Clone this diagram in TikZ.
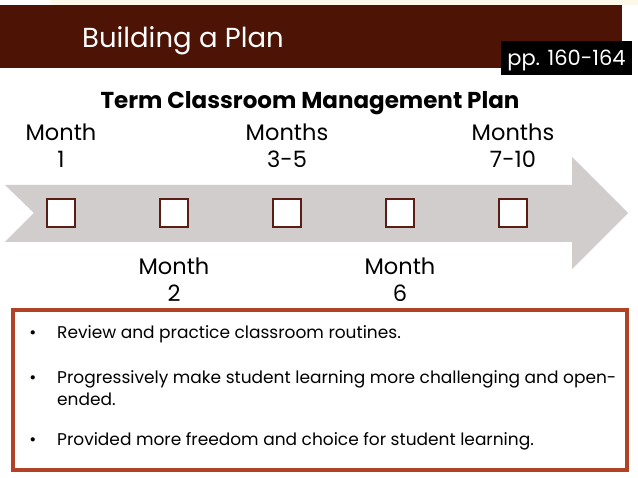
\documentclass[tikz,border=0pt]{standalone}
\usepackage{fontspec}
\setmainfont{Poppins}
\definecolor{barbrown}{RGB}{77,20,6}
\definecolor{cream}{RGB}{253,248,234}
\definecolor{arrowgray}{RGB}{208,205,204}
\definecolor{sqbrown}{RGB}{90,30,20}
\definecolor{boxred}{RGB}{178,66,38}
\tikzset{
  sq/.style={draw=sqbrown, line width=1.6pt, fill=white, minimum width=28pt, minimum height=28pt, inner sep=0pt},
  mlabel/.style={font=\fontsize{22.5}{27}\selectfont, align=center, inner sep=0pt, text=black},
  bul/.style={font=\fontsize{17}{22}\selectfont, anchor=base west, inner sep=0pt, text=black},
  dot/.style={font=\fontsize{17}{22}\selectfont, inner sep=0pt, anchor=base}
}
\begin{document}
\begin{tikzpicture}[x=1pt,y=-1pt]
\useasboundingbox (0,0) rectangle (638,478);
\fill[white] (0,0) rectangle (638,478);
\fill[cream] (50,0) rectangle (638,5);
\fill[barbrown] (0,5) rectangle (622,68);
\node[text=white, font=\fontsize{27.5}{30}\selectfont, inner sep=0pt, anchor=base] (title) at (183,48) {Building a Plan};
\node[fill=black, minimum width=131pt, minimum height=34pt, inner sep=0pt] (pp) at (566.5,58) {};
\node[text=white, font=\fontsize{21}{22}\selectfont, inner sep=0pt, anchor=base] (pptext) at (566.5,66) {pp. 160-164};
\node[font=\bfseries\fontsize{23}{26}\selectfont, inner sep=0pt, anchor=base] (sub) at (310,109) {Term Classroom Management Plan};
% arrow
\fill[arrowgray] (5,185) -- (572,185) -- (572,157) -- (628,213) -- (572,269) -- (572,242) -- (5,242) -- (34,213) -- cycle;
% squares
\foreach \i/\x in {1/61,2/174,3/287,4/400,5/513} {
  \node[sq] (s\i) at (\x,213) {};
}
\node[mlabel, anchor=base] (l1) at (61,141) {Month};
\node[mlabel, anchor=base] (l1b) at (61,168) {1};
\node[mlabel, anchor=base] (l3) at (287,141) {Months};
\node[mlabel, anchor=base] (l3b) at (287,168) {3-5};
\node[mlabel, anchor=base] (l5) at (513,141) {Months};
\node[mlabel, anchor=base] (l5b) at (513,168) {7-10};
\node[mlabel, anchor=base] (l2) at (174,275) {Month};
\node[mlabel, anchor=base] (l2b) at (174,302) {2};
\node[mlabel, anchor=base] (l4) at (400,275) {Month};
\node[mlabel, anchor=base] (l4b) at (400,302) {6};
% bottom box
\draw[boxred, line width=3.5pt] (13,310) rectangle (627,470);
\node[dot] (d1) at (33,339) {•};
\node[bul] (t1) at (57,339) {Review and practice classroom routines.};
\node[dot] (d2) at (33,384) {•};
\node[bul] (t2) at (57,384) {Progressively make student learning more challenging and open-};
\node[bul] (t2b) at (57,406) {ended.};
\node[dot] (d3) at (33,446) {•};
\node[bul] (t3) at (57,446) {Provided more freedom and choice for student learning.};
\end{tikzpicture}
\end{document}
